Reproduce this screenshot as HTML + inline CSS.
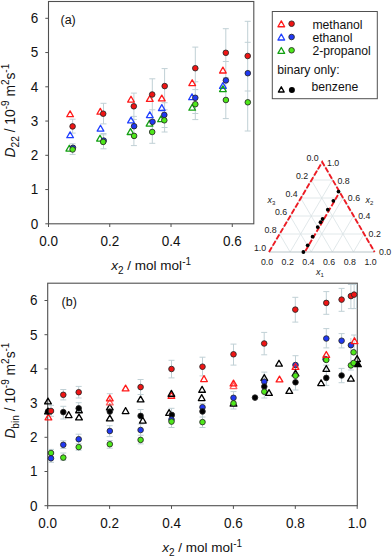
<!DOCTYPE html><html><head><meta charset="utf-8"><style>html,body{margin:0;padding:0;background:#fff;width:392px;height:559px;overflow:hidden}svg{display:block}text{font-family:"Liberation Sans",sans-serif}</style></head><body>
<svg width="392" height="559" viewBox="0 0 392 559">
<rect x="48.5" y="1.5" width="205.3" height="222.3" fill="none" stroke="#505050" stroke-width="1.1"/>
<line x1="45.3" y1="223.80" x2="48.5" y2="223.80" stroke="#505050" stroke-width="1"/>
<text transform="translate(38.3 228.70) scale(1 1.07)" font-size="13.5" text-anchor="end" fill="#111" >0</text>
<line x1="45.3" y1="189.55" x2="48.5" y2="189.55" stroke="#505050" stroke-width="1"/>
<text transform="translate(38.3 194.45) scale(1 1.07)" font-size="13.5" text-anchor="end" fill="#111" >1</text>
<line x1="45.3" y1="155.30" x2="48.5" y2="155.30" stroke="#505050" stroke-width="1"/>
<text transform="translate(38.3 160.20) scale(1 1.07)" font-size="13.5" text-anchor="end" fill="#111" >2</text>
<line x1="45.3" y1="121.05" x2="48.5" y2="121.05" stroke="#505050" stroke-width="1"/>
<text transform="translate(38.3 125.95) scale(1 1.07)" font-size="13.5" text-anchor="end" fill="#111" >3</text>
<line x1="45.3" y1="86.80" x2="48.5" y2="86.80" stroke="#505050" stroke-width="1"/>
<text transform="translate(38.3 91.70) scale(1 1.07)" font-size="13.5" text-anchor="end" fill="#111" >4</text>
<line x1="45.3" y1="52.55" x2="48.5" y2="52.55" stroke="#505050" stroke-width="1"/>
<text transform="translate(38.3 57.45) scale(1 1.07)" font-size="13.5" text-anchor="end" fill="#111" >5</text>
<line x1="45.3" y1="18.30" x2="48.5" y2="18.30" stroke="#505050" stroke-width="1"/>
<text transform="translate(38.3 23.20) scale(1 1.07)" font-size="13.5" text-anchor="end" fill="#111" >6</text>
<line x1="48.50" y1="223.8" x2="48.50" y2="227.0" stroke="#505050" stroke-width="1"/>
<text transform="translate(48.50 246.4) scale(1 1.07)" font-size="13.5" text-anchor="middle" fill="#111" >0.0</text>
<line x1="109.76" y1="223.8" x2="109.76" y2="227.0" stroke="#505050" stroke-width="1"/>
<text transform="translate(109.76 246.4) scale(1 1.07)" font-size="13.5" text-anchor="middle" fill="#111" >0.2</text>
<line x1="171.02" y1="223.8" x2="171.02" y2="227.0" stroke="#505050" stroke-width="1"/>
<text transform="translate(171.02 246.4) scale(1 1.07)" font-size="13.5" text-anchor="middle" fill="#111" >0.4</text>
<line x1="232.28" y1="223.8" x2="232.28" y2="227.0" stroke="#505050" stroke-width="1"/>
<text transform="translate(232.28 246.4) scale(1 1.07)" font-size="13.5" text-anchor="middle" fill="#111" >0.6</text>
<text x="60.5" y="23.9" font-size="12.5" text-anchor="start" fill="#111" >(a)</text>
<text x="111.3" y="270.3" font-size="13.5" fill="#111"><tspan font-style="italic">x</tspan><tspan font-size="10" dy="3.3">2</tspan><tspan dy="-3.3"> / mol mol</tspan><tspan font-size="10" dy="-5.5">-1</tspan></text>
<text transform="translate(15.0 157.5) rotate(-90)" font-size="13.8" fill="#111"><tspan font-style="italic">D</tspan><tspan font-size="10.2" dy="3.6">22</tspan><tspan dy="-3.6"> / 10</tspan><tspan font-size="10" dy="-5.6">-9</tspan><tspan dy="5.6"> m</tspan><tspan font-size="10" dy="-5.6">2</tspan><tspan dy="5.6">s</tspan><tspan font-size="10" dy="-5.6">-1</tspan></text>
<line x1="72.6" y1="119.2" x2="72.6" y2="133.1" stroke="#c0d0d5" stroke-width="1"/>
<line x1="69.6" y1="119.2" x2="75.6" y2="119.2" stroke="#c0d0d5" stroke-width="1"/>
<line x1="69.6" y1="133.1" x2="75.6" y2="133.1" stroke="#c0d0d5" stroke-width="1"/>
<line x1="72.6" y1="143.8" x2="72.6" y2="154.4" stroke="#c0d0d5" stroke-width="1"/>
<line x1="69.6" y1="143.8" x2="75.6" y2="143.8" stroke="#c0d0d5" stroke-width="1"/>
<line x1="69.6" y1="154.4" x2="75.6" y2="154.4" stroke="#c0d0d5" stroke-width="1"/>
<line x1="103.5" y1="103.3" x2="103.5" y2="123.9" stroke="#c0d0d5" stroke-width="1"/>
<line x1="100.5" y1="103.3" x2="106.5" y2="103.3" stroke="#c0d0d5" stroke-width="1"/>
<line x1="100.5" y1="123.9" x2="106.5" y2="123.9" stroke="#c0d0d5" stroke-width="1"/>
<line x1="103.5" y1="133.5" x2="103.5" y2="148.8" stroke="#c0d0d5" stroke-width="1"/>
<line x1="100.5" y1="133.5" x2="106.5" y2="133.5" stroke="#c0d0d5" stroke-width="1"/>
<line x1="100.5" y1="134.8" x2="106.5" y2="134.8" stroke="#c0d0d5" stroke-width="1"/>
<line x1="100.5" y1="148.8" x2="106.5" y2="148.8" stroke="#c0d0d5" stroke-width="1"/>
<line x1="133.9" y1="93.1" x2="133.9" y2="145.6" stroke="#c0d0d5" stroke-width="1"/>
<line x1="130.9" y1="93.1" x2="136.9" y2="93.1" stroke="#c0d0d5" stroke-width="1"/>
<line x1="130.9" y1="116.4" x2="136.9" y2="116.4" stroke="#c0d0d5" stroke-width="1"/>
<line x1="130.9" y1="119.5" x2="136.9" y2="119.5" stroke="#c0d0d5" stroke-width="1"/>
<line x1="130.9" y1="145.6" x2="136.9" y2="145.6" stroke="#c0d0d5" stroke-width="1"/>
<line x1="152.3" y1="78.8" x2="152.3" y2="143.3" stroke="#c0d0d5" stroke-width="1"/>
<line x1="149.3" y1="78.8" x2="155.3" y2="78.8" stroke="#c0d0d5" stroke-width="1"/>
<line x1="149.3" y1="109.8" x2="155.3" y2="109.8" stroke="#c0d0d5" stroke-width="1"/>
<line x1="149.3" y1="143.3" x2="155.3" y2="143.3" stroke="#c0d0d5" stroke-width="1"/>
<line x1="164.6" y1="68.6" x2="164.6" y2="132" stroke="#c0d0d5" stroke-width="1"/>
<line x1="161.6" y1="68.6" x2="167.6" y2="68.6" stroke="#c0d0d5" stroke-width="1"/>
<line x1="161.6" y1="102.7" x2="167.6" y2="102.7" stroke="#c0d0d5" stroke-width="1"/>
<line x1="161.6" y1="109.8" x2="167.6" y2="109.8" stroke="#c0d0d5" stroke-width="1"/>
<line x1="161.6" y1="127.5" x2="167.6" y2="127.5" stroke="#c0d0d5" stroke-width="1"/>
<line x1="161.6" y1="132" x2="167.6" y2="132" stroke="#c0d0d5" stroke-width="1"/>
<line x1="195.3" y1="47.1" x2="195.3" y2="119.6" stroke="#c0d0d5" stroke-width="1"/>
<line x1="192.3" y1="47.1" x2="198.3" y2="47.1" stroke="#c0d0d5" stroke-width="1"/>
<line x1="192.3" y1="81.8" x2="198.3" y2="81.8" stroke="#c0d0d5" stroke-width="1"/>
<line x1="192.3" y1="89.6" x2="198.3" y2="89.6" stroke="#c0d0d5" stroke-width="1"/>
<line x1="192.3" y1="113.5" x2="198.3" y2="113.5" stroke="#c0d0d5" stroke-width="1"/>
<line x1="192.3" y1="119.6" x2="198.3" y2="119.6" stroke="#c0d0d5" stroke-width="1"/>
<line x1="225.8" y1="28.7" x2="225.8" y2="118.6" stroke="#c0d0d5" stroke-width="1"/>
<line x1="222.8" y1="28.7" x2="228.8" y2="28.7" stroke="#c0d0d5" stroke-width="1"/>
<line x1="222.8" y1="61.5" x2="228.8" y2="61.5" stroke="#c0d0d5" stroke-width="1"/>
<line x1="222.8" y1="77.7" x2="228.8" y2="77.7" stroke="#c0d0d5" stroke-width="1"/>
<line x1="222.8" y1="118.6" x2="228.8" y2="118.6" stroke="#c0d0d5" stroke-width="1"/>
<line x1="247.7" y1="21.3" x2="247.7" y2="131" stroke="#c0d0d5" stroke-width="1"/>
<line x1="244.7" y1="21.3" x2="250.7" y2="21.3" stroke="#c0d0d5" stroke-width="1"/>
<line x1="244.7" y1="42.3" x2="250.7" y2="42.3" stroke="#c0d0d5" stroke-width="1"/>
<line x1="244.7" y1="91" x2="250.7" y2="91" stroke="#c0d0d5" stroke-width="1"/>
<line x1="244.7" y1="131" x2="250.7" y2="131" stroke="#c0d0d5" stroke-width="1"/>
<path d="M70.10 110.87L73.45 116.72L66.75 116.72Z" fill="none" stroke="#ff1a1a" stroke-width="1.3" stroke-linejoin="round"/>
<path d="M70.10 131.88L73.45 137.72L66.75 137.72Z" fill="none" stroke="#1f3fff" stroke-width="1.3" stroke-linejoin="round"/>
<path d="M69.30 145.27L72.65 151.12L65.95 151.12Z" fill="none" stroke="#12a012" stroke-width="1.3" stroke-linejoin="round"/>
<circle cx="72.60" cy="126.40" r="2.8" fill="#f01414" stroke="#262626" stroke-width="0.85"/>
<circle cx="73.00" cy="147.80" r="2.8" fill="#2038f2" stroke="#262626" stroke-width="0.85"/>
<circle cx="72.60" cy="149.50" r="2.8" fill="#4ee81a" stroke="#262626" stroke-width="0.85"/>
<path d="M100.30 108.37L103.65 114.22L96.95 114.22Z" fill="none" stroke="#ff1a1a" stroke-width="1.3" stroke-linejoin="round"/>
<path d="M100.50 125.27L103.85 131.12L97.15 131.12Z" fill="none" stroke="#1f3fff" stroke-width="1.3" stroke-linejoin="round"/>
<path d="M100.00 135.27L103.35 141.12L96.65 141.12Z" fill="none" stroke="#12a012" stroke-width="1.3" stroke-linejoin="round"/>
<circle cx="103.20" cy="113.70" r="2.8" fill="#f01414" stroke="#262626" stroke-width="0.85"/>
<circle cx="103.70" cy="140.60" r="2.8" fill="#2038f2" stroke="#262626" stroke-width="0.85"/>
<circle cx="103.20" cy="141.90" r="2.8" fill="#4ee81a" stroke="#262626" stroke-width="0.85"/>
<path d="M131.00 96.27L134.35 102.12L127.65 102.12Z" fill="none" stroke="#ff1a1a" stroke-width="1.3" stroke-linejoin="round"/>
<path d="M131.00 117.07L134.35 122.92L127.65 122.92Z" fill="none" stroke="#1f3fff" stroke-width="1.3" stroke-linejoin="round"/>
<path d="M130.50 128.67L133.85 134.52L127.15 134.52Z" fill="none" stroke="#12a012" stroke-width="1.3" stroke-linejoin="round"/>
<circle cx="133.80" cy="106.30" r="2.8" fill="#f01414" stroke="#262626" stroke-width="0.85"/>
<circle cx="134.10" cy="126.20" r="2.8" fill="#2038f2" stroke="#262626" stroke-width="0.85"/>
<circle cx="134.10" cy="135.90" r="2.8" fill="#4ee81a" stroke="#262626" stroke-width="0.85"/>
<path d="M149.80 95.57L153.15 101.42L146.45 101.42Z" fill="none" stroke="#ff1a1a" stroke-width="1.3" stroke-linejoin="round"/>
<path d="M149.80 111.77L153.15 117.62L146.45 117.62Z" fill="none" stroke="#1f3fff" stroke-width="1.3" stroke-linejoin="round"/>
<path d="M149.50 120.27L152.85 126.12L146.15 126.12Z" fill="none" stroke="#12a012" stroke-width="1.3" stroke-linejoin="round"/>
<circle cx="152.20" cy="94.50" r="2.8" fill="#f01414" stroke="#262626" stroke-width="0.85"/>
<circle cx="152.50" cy="121.80" r="2.8" fill="#2038f2" stroke="#262626" stroke-width="0.85"/>
<circle cx="152.20" cy="132.00" r="2.8" fill="#4ee81a" stroke="#262626" stroke-width="0.85"/>
<path d="M161.80 95.07L165.15 100.92L158.45 100.92Z" fill="none" stroke="#ff1a1a" stroke-width="1.3" stroke-linejoin="round"/>
<path d="M161.80 104.67L165.15 110.52L158.45 110.52Z" fill="none" stroke="#1f3fff" stroke-width="1.3" stroke-linejoin="round"/>
<path d="M161.00 115.87L164.35 121.72L157.65 121.72Z" fill="none" stroke="#12a012" stroke-width="1.3" stroke-linejoin="round"/>
<circle cx="164.70" cy="86.10" r="2.8" fill="#f01414" stroke="#262626" stroke-width="0.85"/>
<circle cx="164.30" cy="114.90" r="2.8" fill="#2038f2" stroke="#262626" stroke-width="0.85"/>
<circle cx="164.30" cy="120.30" r="2.8" fill="#4ee81a" stroke="#262626" stroke-width="0.85"/>
<path d="M192.20 79.77L195.55 85.62L188.85 85.62Z" fill="none" stroke="#ff1a1a" stroke-width="1.3" stroke-linejoin="round"/>
<path d="M192.00 93.87L195.35 99.72L188.65 99.72Z" fill="none" stroke="#1f3fff" stroke-width="1.3" stroke-linejoin="round"/>
<path d="M192.20 104.37L195.55 110.22L188.85 110.22Z" fill="none" stroke="#12a012" stroke-width="1.3" stroke-linejoin="round"/>
<circle cx="195.30" cy="68.20" r="2.8" fill="#f01414" stroke="#262626" stroke-width="0.85"/>
<circle cx="195.30" cy="97.80" r="2.8" fill="#2038f2" stroke="#262626" stroke-width="0.85"/>
<circle cx="195.30" cy="104.20" r="2.8" fill="#4ee81a" stroke="#262626" stroke-width="0.85"/>
<path d="M222.90 67.17L226.25 73.02L219.55 73.02Z" fill="none" stroke="#ff1a1a" stroke-width="1.3" stroke-linejoin="round"/>
<path d="M222.90 82.57L226.25 88.42L219.55 88.42Z" fill="none" stroke="#1f3fff" stroke-width="1.3" stroke-linejoin="round"/>
<path d="M222.90 85.77L226.25 91.62L219.55 91.62Z" fill="none" stroke="#12a012" stroke-width="1.3" stroke-linejoin="round"/>
<circle cx="225.80" cy="52.80" r="2.8" fill="#f01414" stroke="#262626" stroke-width="0.85"/>
<circle cx="225.90" cy="80.40" r="2.8" fill="#2038f2" stroke="#262626" stroke-width="0.85"/>
<circle cx="225.90" cy="100.00" r="2.8" fill="#4ee81a" stroke="#262626" stroke-width="0.85"/>
<circle cx="247.70" cy="56.00" r="2.8" fill="#f01414" stroke="#262626" stroke-width="0.85"/>
<circle cx="247.80" cy="73.20" r="2.8" fill="#2038f2" stroke="#262626" stroke-width="0.85"/>
<circle cx="247.80" cy="102.30" r="2.8" fill="#4ee81a" stroke="#262626" stroke-width="0.85"/>
<rect x="272.3" y="11.5" width="105" height="87.2" fill="#fff" stroke="#505050" stroke-width="1"/>
<path d="M281.30 20.88L284.65 26.73L277.95 26.73Z" fill="none" stroke="#ff1a1a" stroke-width="1.3" stroke-linejoin="round"/>
<circle cx="291.60" cy="23.70" r="2.8" fill="#f01414" stroke="#262626" stroke-width="0.85"/>
<text x="312.4" y="28.6" font-size="12.2" text-anchor="start" fill="#111" >methanol</text>
<path d="M281.30 34.17L284.65 40.02L277.95 40.02Z" fill="none" stroke="#1f3fff" stroke-width="1.3" stroke-linejoin="round"/>
<circle cx="291.60" cy="37.00" r="2.8" fill="#2038f2" stroke="#262626" stroke-width="0.85"/>
<text x="312.4" y="41.9" font-size="12.2" text-anchor="start" fill="#111" >ethanol</text>
<path d="M281.30 47.48L284.65 53.33L277.95 53.33Z" fill="none" stroke="#12a012" stroke-width="1.3" stroke-linejoin="round"/>
<circle cx="291.60" cy="50.30" r="2.8" fill="#4ee81a" stroke="#262626" stroke-width="0.85"/>
<text x="312.4" y="55.2" font-size="12.2" text-anchor="start" fill="#111" >2-propanol</text>
<text x="277.2" y="73.8" font-size="12.2" text-anchor="start" fill="#111" >binary only:</text>
<path d="M281.30 86.83L284.20 91.98L278.40 91.98Z" fill="none" stroke="#000000" stroke-width="1.35" stroke-linejoin="round"/>
<circle cx="291.9" cy="90" r="3" fill="#000"/>
<text x="311.5" y="91.4" font-size="12.2" text-anchor="start" fill="#111" >benzene</text>
<line x1="311.64" y1="180.00" x2="332.76" y2="180.00" stroke="#d9e2e5" stroke-width="0.8"/>
<line x1="290.12" y1="252.0" x2="332.36" y2="180.00" stroke="#d9e2e5" stroke-width="0.8"/>
<line x1="290.12" y1="252.0" x2="279.56" y2="234.00" stroke="#d9e2e5" stroke-width="0.8"/>
<line x1="301.08" y1="198.00" x2="343.32" y2="198.00" stroke="#d9e2e5" stroke-width="0.8"/>
<line x1="311.24" y1="252.0" x2="342.92" y2="198.00" stroke="#d9e2e5" stroke-width="0.8"/>
<line x1="311.24" y1="252.0" x2="290.12" y2="216.00" stroke="#d9e2e5" stroke-width="0.8"/>
<line x1="290.52" y1="216.00" x2="353.88" y2="216.00" stroke="#d9e2e5" stroke-width="0.8"/>
<line x1="332.36" y1="252.0" x2="353.48" y2="216.00" stroke="#d9e2e5" stroke-width="0.8"/>
<line x1="332.36" y1="252.0" x2="300.68" y2="198.00" stroke="#d9e2e5" stroke-width="0.8"/>
<line x1="279.96" y1="234.00" x2="364.44" y2="234.00" stroke="#d9e2e5" stroke-width="0.8"/>
<line x1="353.48" y1="252.0" x2="364.04" y2="234.00" stroke="#d9e2e5" stroke-width="0.8"/>
<line x1="353.48" y1="252.0" x2="311.24" y2="180.00" stroke="#d9e2e5" stroke-width="0.8"/>
<line x1="269.0" y1="252.0" x2="374.6" y2="252.0" stroke="#b8c4c8" stroke-width="1"/>
<path d="M269.0 252.0L322.2 162.0L374.6 252.0" fill="none" stroke="#c8d0d4" stroke-width="1"/>
<path d="M269.0 252.0L322.2 162.0L374.6 252.0" fill="none" stroke="#ee1c24" stroke-width="1.9" stroke-dasharray="5.5 1.9"/>
<line x1="305.4" y1="251" x2="338.8" y2="193.5" stroke="#ee1c24" stroke-width="1.9" stroke-dasharray="5.5 1.9"/>
<circle cx="303.4" cy="252" r="1.9" fill="#000"/>
<circle cx="307.7" cy="245.3" r="1.9" fill="#000"/>
<circle cx="312.6" cy="236.7" r="1.9" fill="#000"/>
<circle cx="317.7" cy="227.1" r="1.9" fill="#000"/>
<circle cx="320.5" cy="222.2" r="1.9" fill="#000"/>
<circle cx="322.6" cy="219" r="1.9" fill="#000"/>
<circle cx="327.8" cy="209.7" r="1.9" fill="#000"/>
<circle cx="333.4" cy="200.8" r="1.9" fill="#000"/>
<circle cx="338.5" cy="191.6" r="1.9" fill="#000"/>
<text x="318.7" y="161.0" font-size="8.8" text-anchor="end" fill="#222" >0.0</text>
<text x="308.2" y="179.0" font-size="8.8" text-anchor="end" fill="#222" >0.2</text>
<text x="297.7" y="197.0" font-size="8.8" text-anchor="end" fill="#222" >0.4</text>
<text x="287.2" y="215.0" font-size="8.8" text-anchor="end" fill="#222" >0.6</text>
<text x="276.7" y="233.0" font-size="8.8" text-anchor="end" fill="#222" >0.8</text>
<text x="266.2" y="251.0" font-size="8.8" text-anchor="end" fill="#222" >1.0</text>
<text x="327.0" y="165.7" font-size="8.8" text-anchor="start" fill="#222" >1.0</text>
<text x="337.4" y="183.5" font-size="8.8" text-anchor="start" fill="#222" >0.8</text>
<text x="347.8" y="201.3" font-size="8.8" text-anchor="start" fill="#222" >0.6</text>
<text x="358.2" y="219.1" font-size="8.8" text-anchor="start" fill="#222" >0.4</text>
<text x="368.6" y="236.9" font-size="8.8" text-anchor="start" fill="#222" >0.2</text>
<text x="379.0" y="254.7" font-size="8.8" text-anchor="start" fill="#222" >0.0</text>
<text x="267.0" y="264.8" font-size="8.8" text-anchor="middle" fill="#222" >0.0</text>
<text x="287.7" y="264.8" font-size="8.8" text-anchor="middle" fill="#222" >0.2</text>
<text x="308.4" y="264.8" font-size="8.8" text-anchor="middle" fill="#222" >0.4</text>
<text x="329.1" y="264.8" font-size="8.8" text-anchor="middle" fill="#222" >0.6</text>
<text x="349.8" y="264.8" font-size="8.8" text-anchor="middle" fill="#222" >0.8</text>
<text x="370.5" y="264.8" font-size="8.8" text-anchor="middle" fill="#222" >1.0</text>
<text x="267.6" y="202.5" font-size="9" fill="#222"><tspan font-style="italic">x</tspan><tspan font-size="6" dy="2">3</tspan></text>
<text x="365.5" y="202.8" font-size="9" fill="#222"><tspan font-style="italic">x</tspan><tspan font-size="6" dy="2">2</tspan></text>
<text x="316" y="275" font-size="9" fill="#222"><tspan font-style="italic">x</tspan><tspan font-size="6" dy="2">1</tspan></text>
<rect x="47.7" y="283.2" width="309.6" height="222.5" fill="none" stroke="#505050" stroke-width="1.1"/>
<line x1="44.5" y1="505.70" x2="47.7" y2="505.70" stroke="#505050" stroke-width="1"/>
<text transform="translate(37.5 510.60) scale(1 1.07)" font-size="13.5" text-anchor="end" fill="#111" >0</text>
<line x1="44.5" y1="471.50" x2="47.7" y2="471.50" stroke="#505050" stroke-width="1"/>
<text transform="translate(37.5 476.40) scale(1 1.07)" font-size="13.5" text-anchor="end" fill="#111" >1</text>
<line x1="44.5" y1="437.30" x2="47.7" y2="437.30" stroke="#505050" stroke-width="1"/>
<text transform="translate(37.5 442.20) scale(1 1.07)" font-size="13.5" text-anchor="end" fill="#111" >2</text>
<line x1="44.5" y1="403.10" x2="47.7" y2="403.10" stroke="#505050" stroke-width="1"/>
<text transform="translate(37.5 408.00) scale(1 1.07)" font-size="13.5" text-anchor="end" fill="#111" >3</text>
<line x1="44.5" y1="368.90" x2="47.7" y2="368.90" stroke="#505050" stroke-width="1"/>
<text transform="translate(37.5 373.80) scale(1 1.07)" font-size="13.5" text-anchor="end" fill="#111" >4</text>
<line x1="44.5" y1="334.70" x2="47.7" y2="334.70" stroke="#505050" stroke-width="1"/>
<text transform="translate(37.5 339.60) scale(1 1.07)" font-size="13.5" text-anchor="end" fill="#111" >5</text>
<line x1="44.5" y1="300.50" x2="47.7" y2="300.50" stroke="#505050" stroke-width="1"/>
<text transform="translate(37.5 305.40) scale(1 1.07)" font-size="13.5" text-anchor="end" fill="#111" >6</text>
<line x1="47.70" y1="505.7" x2="47.70" y2="508.9" stroke="#505050" stroke-width="1"/>
<text transform="translate(47.70 528.4) scale(1 1.07)" font-size="13.5" text-anchor="middle" fill="#111" >0.0</text>
<line x1="109.60" y1="505.7" x2="109.60" y2="508.9" stroke="#505050" stroke-width="1"/>
<text transform="translate(109.60 528.4) scale(1 1.07)" font-size="13.5" text-anchor="middle" fill="#111" >0.2</text>
<line x1="171.50" y1="505.7" x2="171.50" y2="508.9" stroke="#505050" stroke-width="1"/>
<text transform="translate(171.50 528.4) scale(1 1.07)" font-size="13.5" text-anchor="middle" fill="#111" >0.4</text>
<line x1="233.40" y1="505.7" x2="233.40" y2="508.9" stroke="#505050" stroke-width="1"/>
<text transform="translate(233.40 528.4) scale(1 1.07)" font-size="13.5" text-anchor="middle" fill="#111" >0.6</text>
<line x1="295.30" y1="505.7" x2="295.30" y2="508.9" stroke="#505050" stroke-width="1"/>
<text transform="translate(295.30 528.4) scale(1 1.07)" font-size="13.5" text-anchor="middle" fill="#111" >0.8</text>
<line x1="357.20" y1="505.7" x2="357.20" y2="508.9" stroke="#505050" stroke-width="1"/>
<text transform="translate(357.20 528.4) scale(1 1.07)" font-size="13.5" text-anchor="middle" fill="#111" >1.0</text>
<text x="61.6" y="306.0" font-size="12.5" text-anchor="start" fill="#111" >(b)</text>
<text x="162.3" y="552.4" font-size="13.5" fill="#111"><tspan font-style="italic">x</tspan><tspan font-size="10" dy="3.3">2</tspan><tspan dy="-3.3"> / mol mol</tspan><tspan font-size="10" dy="-5.5">-1</tspan></text>
<text transform="translate(15.0 438.6) rotate(-90)" font-size="13.8" fill="#111"><tspan font-style="italic">D</tspan><tspan font-size="10.2" dy="3.6">bin</tspan><tspan dy="-3.6"> / 10</tspan><tspan font-size="10" dy="-5.6">-9</tspan><tspan dy="5.6"> m</tspan><tspan font-size="10" dy="-5.6">2</tspan><tspan dy="5.6">s</tspan><tspan font-size="10" dy="-5.6">-1</tspan></text>
<line x1="51" y1="405.3" x2="51" y2="416.3" stroke="#c0d0d5" stroke-width="1"/>
<line x1="48.0" y1="405.3" x2="54.0" y2="405.3" stroke="#c0d0d5" stroke-width="1"/>
<line x1="48.0" y1="416.3" x2="54.0" y2="416.3" stroke="#c0d0d5" stroke-width="1"/>
<line x1="51" y1="449.4" x2="51" y2="462.3" stroke="#c0d0d5" stroke-width="1"/>
<line x1="48.0" y1="449.4" x2="54.0" y2="449.4" stroke="#c0d0d5" stroke-width="1"/>
<line x1="48.0" y1="462.3" x2="54.0" y2="462.3" stroke="#c0d0d5" stroke-width="1"/>
<line x1="63.3" y1="440.8" x2="63.3" y2="448.5" stroke="#c0d0d5" stroke-width="1"/>
<line x1="60.3" y1="440.8" x2="66.3" y2="440.8" stroke="#c0d0d5" stroke-width="1"/>
<line x1="60.3" y1="448.5" x2="66.3" y2="448.5" stroke="#c0d0d5" stroke-width="1"/>
<line x1="63.3" y1="453" x2="63.3" y2="460.2" stroke="#c0d0d5" stroke-width="1"/>
<line x1="60.3" y1="453" x2="66.3" y2="453" stroke="#c0d0d5" stroke-width="1"/>
<line x1="60.3" y1="460.2" x2="66.3" y2="460.2" stroke="#c0d0d5" stroke-width="1"/>
<line x1="78.6" y1="434.2" x2="78.6" y2="443.8" stroke="#c0d0d5" stroke-width="1"/>
<line x1="75.6" y1="434.2" x2="81.6" y2="434.2" stroke="#c0d0d5" stroke-width="1"/>
<line x1="75.6" y1="443.8" x2="81.6" y2="443.8" stroke="#c0d0d5" stroke-width="1"/>
<line x1="78.6" y1="443.8" x2="78.6" y2="450.2" stroke="#c0d0d5" stroke-width="1"/>
<line x1="75.6" y1="450.2" x2="81.6" y2="450.2" stroke="#c0d0d5" stroke-width="1"/>
<line x1="109.7" y1="425.7" x2="109.7" y2="436.6" stroke="#c0d0d5" stroke-width="1"/>
<line x1="106.7" y1="425.7" x2="112.7" y2="425.7" stroke="#c0d0d5" stroke-width="1"/>
<line x1="106.7" y1="436.6" x2="112.7" y2="436.6" stroke="#c0d0d5" stroke-width="1"/>
<line x1="109.7" y1="440.5" x2="109.7" y2="448.2" stroke="#c0d0d5" stroke-width="1"/>
<line x1="106.7" y1="440.5" x2="112.7" y2="440.5" stroke="#c0d0d5" stroke-width="1"/>
<line x1="106.7" y1="448.2" x2="112.7" y2="448.2" stroke="#c0d0d5" stroke-width="1"/>
<line x1="140.7" y1="424" x2="140.7" y2="435.2" stroke="#c0d0d5" stroke-width="1"/>
<line x1="137.7" y1="424" x2="143.7" y2="424" stroke="#c0d0d5" stroke-width="1"/>
<line x1="137.7" y1="435.2" x2="143.7" y2="435.2" stroke="#c0d0d5" stroke-width="1"/>
<line x1="140.7" y1="435.2" x2="140.7" y2="443.9" stroke="#c0d0d5" stroke-width="1"/>
<line x1="137.7" y1="443.9" x2="143.7" y2="443.9" stroke="#c0d0d5" stroke-width="1"/>
<line x1="63.3" y1="389.5" x2="63.3" y2="399.9" stroke="#c0d0d5" stroke-width="1"/>
<line x1="60.3" y1="389.5" x2="66.3" y2="389.5" stroke="#c0d0d5" stroke-width="1"/>
<line x1="60.3" y1="399.9" x2="66.3" y2="399.9" stroke="#c0d0d5" stroke-width="1"/>
<line x1="63.3" y1="406.3" x2="63.3" y2="419" stroke="#c0d0d5" stroke-width="1"/>
<line x1="60.3" y1="406.3" x2="66.3" y2="406.3" stroke="#c0d0d5" stroke-width="1"/>
<line x1="60.3" y1="419" x2="66.3" y2="419" stroke="#c0d0d5" stroke-width="1"/>
<line x1="78.7" y1="386.4" x2="78.7" y2="398" stroke="#c0d0d5" stroke-width="1"/>
<line x1="75.7" y1="386.4" x2="81.7" y2="386.4" stroke="#c0d0d5" stroke-width="1"/>
<line x1="75.7" y1="398" x2="81.7" y2="398" stroke="#c0d0d5" stroke-width="1"/>
<line x1="78.7" y1="402.7" x2="78.7" y2="411.4" stroke="#c0d0d5" stroke-width="1"/>
<line x1="75.7" y1="402.7" x2="81.7" y2="402.7" stroke="#c0d0d5" stroke-width="1"/>
<line x1="75.7" y1="411.4" x2="81.7" y2="411.4" stroke="#c0d0d5" stroke-width="1"/>
<line x1="109.8" y1="393.7" x2="109.8" y2="400" stroke="#c0d0d5" stroke-width="1"/>
<line x1="106.8" y1="393.7" x2="112.8" y2="393.7" stroke="#c0d0d5" stroke-width="1"/>
<line x1="140.6" y1="379.5" x2="140.6" y2="394.5" stroke="#c0d0d5" stroke-width="1"/>
<line x1="137.6" y1="379.5" x2="143.6" y2="379.5" stroke="#c0d0d5" stroke-width="1"/>
<line x1="137.6" y1="394.5" x2="143.6" y2="394.5" stroke="#c0d0d5" stroke-width="1"/>
<line x1="140.6" y1="409.5" x2="140.6" y2="420" stroke="#c0d0d5" stroke-width="1"/>
<line x1="137.6" y1="409.5" x2="143.6" y2="409.5" stroke="#c0d0d5" stroke-width="1"/>
<line x1="171.5" y1="360.3" x2="171.5" y2="377.9" stroke="#c0d0d5" stroke-width="1"/>
<line x1="168.5" y1="360.3" x2="174.5" y2="360.3" stroke="#c0d0d5" stroke-width="1"/>
<line x1="168.5" y1="377.9" x2="174.5" y2="377.9" stroke="#c0d0d5" stroke-width="1"/>
<line x1="171.5" y1="408.3" x2="171.5" y2="427.5" stroke="#c0d0d5" stroke-width="1"/>
<line x1="168.5" y1="408.3" x2="174.5" y2="408.3" stroke="#c0d0d5" stroke-width="1"/>
<line x1="168.5" y1="427.5" x2="174.5" y2="427.5" stroke="#c0d0d5" stroke-width="1"/>
<line x1="202.5" y1="357.2" x2="202.5" y2="375.9" stroke="#c0d0d5" stroke-width="1"/>
<line x1="199.5" y1="357.2" x2="205.5" y2="357.2" stroke="#c0d0d5" stroke-width="1"/>
<line x1="199.5" y1="375.9" x2="205.5" y2="375.9" stroke="#c0d0d5" stroke-width="1"/>
<line x1="202.5" y1="403.7" x2="202.5" y2="427.5" stroke="#c0d0d5" stroke-width="1"/>
<line x1="199.5" y1="403.7" x2="205.5" y2="403.7" stroke="#c0d0d5" stroke-width="1"/>
<line x1="199.5" y1="417" x2="205.5" y2="417" stroke="#c0d0d5" stroke-width="1"/>
<line x1="199.5" y1="427.5" x2="205.5" y2="427.5" stroke="#c0d0d5" stroke-width="1"/>
<line x1="233.5" y1="344.1" x2="233.5" y2="365.1" stroke="#c0d0d5" stroke-width="1"/>
<line x1="230.5" y1="344.1" x2="236.5" y2="344.1" stroke="#c0d0d5" stroke-width="1"/>
<line x1="230.5" y1="365.1" x2="236.5" y2="365.1" stroke="#c0d0d5" stroke-width="1"/>
<line x1="233.5" y1="391.6" x2="233.5" y2="409" stroke="#c0d0d5" stroke-width="1"/>
<line x1="230.5" y1="391.6" x2="236.5" y2="391.6" stroke="#c0d0d5" stroke-width="1"/>
<line x1="230.5" y1="409" x2="236.5" y2="409" stroke="#c0d0d5" stroke-width="1"/>
<line x1="264.2" y1="332.4" x2="264.2" y2="354.8" stroke="#c0d0d5" stroke-width="1"/>
<line x1="261.2" y1="332.4" x2="267.2" y2="332.4" stroke="#c0d0d5" stroke-width="1"/>
<line x1="261.2" y1="354.8" x2="267.2" y2="354.8" stroke="#c0d0d5" stroke-width="1"/>
<line x1="264.3" y1="372.1" x2="264.3" y2="398" stroke="#c0d0d5" stroke-width="1"/>
<line x1="261.3" y1="372.1" x2="267.3" y2="372.1" stroke="#c0d0d5" stroke-width="1"/>
<line x1="261.3" y1="398" x2="267.3" y2="398" stroke="#c0d0d5" stroke-width="1"/>
<line x1="295.3" y1="297.3" x2="295.3" y2="322.1" stroke="#c0d0d5" stroke-width="1"/>
<line x1="292.3" y1="297.3" x2="298.3" y2="297.3" stroke="#c0d0d5" stroke-width="1"/>
<line x1="292.3" y1="322.1" x2="298.3" y2="322.1" stroke="#c0d0d5" stroke-width="1"/>
<line x1="295.5" y1="355.7" x2="295.5" y2="390" stroke="#c0d0d5" stroke-width="1"/>
<line x1="292.5" y1="355.7" x2="298.5" y2="355.7" stroke="#c0d0d5" stroke-width="1"/>
<line x1="292.5" y1="390" x2="298.5" y2="390" stroke="#c0d0d5" stroke-width="1"/>
<line x1="326.3" y1="291.6" x2="326.3" y2="314.3" stroke="#c0d0d5" stroke-width="1"/>
<line x1="323.3" y1="291.6" x2="329.3" y2="291.6" stroke="#c0d0d5" stroke-width="1"/>
<line x1="323.3" y1="314.3" x2="329.3" y2="314.3" stroke="#c0d0d5" stroke-width="1"/>
<line x1="326.3" y1="328.6" x2="326.3" y2="347.9" stroke="#c0d0d5" stroke-width="1"/>
<line x1="323.3" y1="328.6" x2="329.3" y2="328.6" stroke="#c0d0d5" stroke-width="1"/>
<line x1="323.3" y1="347.9" x2="329.3" y2="347.9" stroke="#c0d0d5" stroke-width="1"/>
<line x1="326.3" y1="365.1" x2="326.3" y2="385.4" stroke="#c0d0d5" stroke-width="1"/>
<line x1="323.3" y1="365.1" x2="329.3" y2="365.1" stroke="#c0d0d5" stroke-width="1"/>
<line x1="323.3" y1="385.4" x2="329.3" y2="385.4" stroke="#c0d0d5" stroke-width="1"/>
<line x1="341.6" y1="288.4" x2="341.6" y2="311.3" stroke="#c0d0d5" stroke-width="1"/>
<line x1="338.6" y1="288.4" x2="344.6" y2="288.4" stroke="#c0d0d5" stroke-width="1"/>
<line x1="338.6" y1="311.3" x2="344.6" y2="311.3" stroke="#c0d0d5" stroke-width="1"/>
<line x1="341.6" y1="333.6" x2="341.6" y2="347.9" stroke="#c0d0d5" stroke-width="1"/>
<line x1="338.6" y1="333.6" x2="344.6" y2="333.6" stroke="#c0d0d5" stroke-width="1"/>
<line x1="338.6" y1="347.9" x2="344.6" y2="347.9" stroke="#c0d0d5" stroke-width="1"/>
<line x1="341.6" y1="368.4" x2="341.6" y2="382.7" stroke="#c0d0d5" stroke-width="1"/>
<line x1="338.6" y1="368.4" x2="344.6" y2="368.4" stroke="#c0d0d5" stroke-width="1"/>
<line x1="338.6" y1="382.7" x2="344.6" y2="382.7" stroke="#c0d0d5" stroke-width="1"/>
<line x1="350.9" y1="284.5" x2="350.9" y2="308.6" stroke="#c0d0d5" stroke-width="1"/>
<line x1="347.9" y1="284.5" x2="353.9" y2="284.5" stroke="#c0d0d5" stroke-width="1"/>
<line x1="347.9" y1="308.6" x2="353.9" y2="308.6" stroke="#c0d0d5" stroke-width="1"/>
<line x1="354.1" y1="284.5" x2="354.1" y2="308.6" stroke="#c0d0d5" stroke-width="1"/>
<line x1="351.1" y1="284.5" x2="357.1" y2="284.5" stroke="#c0d0d5" stroke-width="1"/>
<line x1="351.1" y1="308.6" x2="357.1" y2="308.6" stroke="#c0d0d5" stroke-width="1"/>
<line x1="356.5" y1="284.5" x2="356.5" y2="308.6" stroke="#c0d0d5" stroke-width="1"/>
<line x1="350.9" y1="338" x2="350.9" y2="370" stroke="#c0d0d5" stroke-width="1"/>
<line x1="347.9" y1="370" x2="353.9" y2="370" stroke="#c0d0d5" stroke-width="1"/>
<line x1="354.1" y1="335" x2="354.1" y2="352" stroke="#c0d0d5" stroke-width="1"/>
<line x1="351.1" y1="335" x2="357.1" y2="335" stroke="#c0d0d5" stroke-width="1"/>
<path d="M48.00 398.08L51.35 403.93L44.65 403.93Z" fill="none" stroke="#000000" stroke-width="1.3" stroke-linejoin="round"/>
<path d="M48.40 413.98L51.75 419.82L45.05 419.82Z" fill="none" stroke="#ff1a1a" stroke-width="1.3" stroke-linejoin="round"/>
<circle cx="48.00" cy="411.50" r="2.8" fill="#000000" stroke="#262626" stroke-width="0.85"/>
<path d="M48.00 408.08L51.35 413.93L44.65 413.93Z" fill="none" stroke="#000000" stroke-width="1.3" stroke-linejoin="round"/>
<circle cx="51.00" cy="411.00" r="2.8" fill="#f01414" stroke="#262626" stroke-width="0.85"/>
<circle cx="51.00" cy="453.00" r="2.8" fill="#4ee81a" stroke="#262626" stroke-width="0.85"/>
<circle cx="51.00" cy="458.30" r="2.8" fill="#2038f2" stroke="#262626" stroke-width="0.85"/>
<circle cx="63.30" cy="394.80" r="2.8" fill="#f01414" stroke="#262626" stroke-width="0.85"/>
<circle cx="63.30" cy="412.10" r="2.8" fill="#000000" stroke="#262626" stroke-width="0.85"/>
<path d="M68.70 411.68L72.05 417.53L65.35 417.53Z" fill="none" stroke="#000000" stroke-width="1.3" stroke-linejoin="round"/>
<circle cx="63.30" cy="444.80" r="2.8" fill="#2038f2" stroke="#262626" stroke-width="0.85"/>
<circle cx="63.30" cy="457.60" r="2.8" fill="#4ee81a" stroke="#262626" stroke-width="0.85"/>
<circle cx="78.70" cy="392.20" r="2.8" fill="#f01414" stroke="#262626" stroke-width="0.85"/>
<path d="M79.00 406.88L82.35 412.73L75.65 412.73Z" fill="none" stroke="#000000" stroke-width="1.3" stroke-linejoin="round"/>
<circle cx="78.70" cy="408.30" r="2.8" fill="#000000" stroke="#262626" stroke-width="0.85"/>
<path d="M79.00 414.08L82.35 419.93L75.65 419.93Z" fill="none" stroke="#000000" stroke-width="1.3" stroke-linejoin="round"/>
<circle cx="78.70" cy="439.20" r="2.8" fill="#2038f2" stroke="#262626" stroke-width="0.85"/>
<circle cx="78.70" cy="447.10" r="2.8" fill="#4ee81a" stroke="#262626" stroke-width="0.85"/>
<path d="M109.80 404.08L113.15 409.93L106.45 409.93Z" fill="none" stroke="#000000" stroke-width="1.3" stroke-linejoin="round"/>
<path d="M109.80 399.08L113.15 404.93L106.45 404.93Z" fill="none" stroke="#ff6060" stroke-width="1.3" stroke-linejoin="round"/>
<path d="M109.80 395.08L113.15 400.93L106.45 400.93Z" fill="none" stroke="#ff1a1a" stroke-width="1.3" stroke-linejoin="round"/>
<circle cx="109.80" cy="411.60" r="2.8" fill="#000000" stroke="#262626" stroke-width="0.85"/>
<path d="M109.80 415.08L113.15 420.93L106.45 420.93Z" fill="none" stroke="#000000" stroke-width="1.3" stroke-linejoin="round"/>
<circle cx="109.80" cy="431.00" r="2.8" fill="#2038f2" stroke="#262626" stroke-width="0.85"/>
<circle cx="109.80" cy="444.20" r="2.8" fill="#4ee81a" stroke="#262626" stroke-width="0.85"/>
<path d="M125.60 385.08L128.95 390.93L122.25 390.93Z" fill="none" stroke="#ff1a1a" stroke-width="1.3" stroke-linejoin="round"/>
<path d="M125.60 407.68L128.95 413.53L122.25 413.53Z" fill="none" stroke="#000000" stroke-width="1.3" stroke-linejoin="round"/>
<circle cx="140.60" cy="387.10" r="2.8" fill="#f01414" stroke="#262626" stroke-width="0.85"/>
<path d="M140.60 396.08L143.95 401.93L137.25 401.93Z" fill="none" stroke="#000000" stroke-width="1.3" stroke-linejoin="round"/>
<circle cx="140.60" cy="415.90" r="2.8" fill="#000000" stroke="#262626" stroke-width="0.85"/>
<path d="M142.80 417.28L146.15 423.12L139.45 423.12Z" fill="none" stroke="#000000" stroke-width="1.3" stroke-linejoin="round"/>
<circle cx="140.60" cy="430.00" r="2.8" fill="#2038f2" stroke="#262626" stroke-width="0.85"/>
<circle cx="140.60" cy="439.90" r="2.8" fill="#4ee81a" stroke="#262626" stroke-width="0.85"/>
<circle cx="171.50" cy="369.00" r="2.8" fill="#f01414" stroke="#262626" stroke-width="0.85"/>
<path d="M171.40 392.38L174.75 398.23L168.05 398.23Z" fill="none" stroke="#ff1a1a" stroke-width="1.3" stroke-linejoin="round"/>
<path d="M171.40 390.38L174.75 396.23L168.05 396.23Z" fill="none" stroke="#000000" stroke-width="1.3" stroke-linejoin="round"/>
<path d="M169.10 409.58L172.45 415.43L165.75 415.43Z" fill="none" stroke="#000000" stroke-width="1.3" stroke-linejoin="round"/>
<circle cx="171.80" cy="414.90" r="2.8" fill="#000000" stroke="#262626" stroke-width="0.85"/>
<circle cx="171.50" cy="419.50" r="2.8" fill="#2038f2" stroke="#262626" stroke-width="0.85"/>
<circle cx="171.50" cy="421.60" r="2.8" fill="#4ee81a" stroke="#262626" stroke-width="0.85"/>
<circle cx="202.50" cy="366.70" r="2.8" fill="#f01414" stroke="#262626" stroke-width="0.85"/>
<path d="M204.00 375.68L207.35 381.53L200.65 381.53Z" fill="none" stroke="#ff1a1a" stroke-width="1.3" stroke-linejoin="round"/>
<path d="M202.10 386.38L205.45 392.23L198.75 392.23Z" fill="none" stroke="#000000" stroke-width="1.3" stroke-linejoin="round"/>
<path d="M201.70 394.68L205.05 400.53L198.35 400.53Z" fill="none" stroke="#000000" stroke-width="1.3" stroke-linejoin="round"/>
<circle cx="202.50" cy="407.20" r="2.8" fill="#2038f2" stroke="#262626" stroke-width="0.85"/>
<circle cx="202.50" cy="411.40" r="2.8" fill="#000000" stroke="#262626" stroke-width="0.85"/>
<circle cx="202.50" cy="422.10" r="2.8" fill="#4ee81a" stroke="#262626" stroke-width="0.85"/>
<circle cx="233.50" cy="354.30" r="2.8" fill="#f01414" stroke="#262626" stroke-width="0.85"/>
<path d="M233.50 400.28L236.85 406.12L230.15 406.12Z" fill="none" stroke="#000000" stroke-width="1.3" stroke-linejoin="round"/>
<path d="M233.50 382.68L236.85 388.53L230.15 388.53Z" fill="none" stroke="#ff6060" stroke-width="1.3" stroke-linejoin="round"/>
<path d="M233.50 380.08L236.85 385.93L230.15 385.93Z" fill="none" stroke="#ff1a1a" stroke-width="1.3" stroke-linejoin="round"/>
<circle cx="233.50" cy="397.80" r="2.8" fill="#2038f2" stroke="#262626" stroke-width="0.85"/>
<circle cx="233.50" cy="403.30" r="2.8" fill="#4ee81a" stroke="#262626" stroke-width="0.85"/>
<circle cx="255.00" cy="397.60" r="2.8" fill="#000000" stroke="#262626" stroke-width="0.85"/>
<circle cx="264.20" cy="343.50" r="2.8" fill="#f01414" stroke="#262626" stroke-width="0.85"/>
<path d="M264.30 374.58L267.65 380.43L260.95 380.43Z" fill="none" stroke="#000000" stroke-width="1.3" stroke-linejoin="round"/>
<circle cx="264.30" cy="381.70" r="2.8" fill="#2038f2" stroke="#262626" stroke-width="0.85"/>
<circle cx="264.30" cy="386.60" r="2.8" fill="#000000" stroke="#262626" stroke-width="0.85"/>
<circle cx="264.30" cy="391.70" r="2.8" fill="#4ee81a" stroke="#262626" stroke-width="0.85"/>
<path d="M269.00 389.58L272.35 395.43L265.65 395.43Z" fill="none" stroke="#000000" stroke-width="1.3" stroke-linejoin="round"/>
<path d="M279.00 360.28L282.35 366.12L275.65 366.12Z" fill="none" stroke="#000000" stroke-width="1.3" stroke-linejoin="round"/>
<path d="M279.50 376.08L282.85 381.93L276.15 381.93Z" fill="none" stroke="#ff1a1a" stroke-width="1.3" stroke-linejoin="round"/>
<path d="M289.30 387.58L292.65 393.43L285.95 393.43Z" fill="none" stroke="#000000" stroke-width="1.3" stroke-linejoin="round"/>
<circle cx="295.30" cy="309.60" r="2.8" fill="#f01414" stroke="#262626" stroke-width="0.85"/>
<circle cx="295.50" cy="365.00" r="2.8" fill="#2038f2" stroke="#262626" stroke-width="0.85"/>
<path d="M295.50 363.58L298.85 369.43L292.15 369.43Z" fill="none" stroke="#ff1a1a" stroke-width="1.3" stroke-linejoin="round"/>
<path d="M295.50 370.08L298.85 375.93L292.15 375.93Z" fill="none" stroke="#000000" stroke-width="1.3" stroke-linejoin="round"/>
<circle cx="295.50" cy="375.70" r="2.8" fill="#4ee81a" stroke="#262626" stroke-width="0.85"/>
<circle cx="295.50" cy="382.30" r="2.8" fill="#000000" stroke="#262626" stroke-width="0.85"/>
<circle cx="326.30" cy="302.90" r="2.8" fill="#f01414" stroke="#262626" stroke-width="0.85"/>
<circle cx="326.30" cy="338.50" r="2.8" fill="#2038f2" stroke="#262626" stroke-width="0.85"/>
<circle cx="325.60" cy="359.20" r="2.8" fill="#2038f2" stroke="#262626" stroke-width="0.85"/>
<circle cx="326.30" cy="359.90" r="2.8" fill="#4ee81a" stroke="#262626" stroke-width="0.85"/>
<path d="M326.30 351.48L329.65 357.32L322.95 357.32Z" fill="none" stroke="#ff1a1a" stroke-width="1.3" stroke-linejoin="round"/>
<path d="M326.30 365.48L329.65 371.32L322.95 371.32Z" fill="none" stroke="#000000" stroke-width="1.3" stroke-linejoin="round"/>
<circle cx="326.30" cy="377.90" r="2.8" fill="#000000" stroke="#262626" stroke-width="0.85"/>
<path d="M321.10 379.78L324.45 385.62L317.75 385.62Z" fill="none" stroke="#000000" stroke-width="1.3" stroke-linejoin="round"/>
<circle cx="341.60" cy="299.60" r="2.8" fill="#f01414" stroke="#262626" stroke-width="0.85"/>
<circle cx="341.60" cy="340.70" r="2.8" fill="#2038f2" stroke="#262626" stroke-width="0.85"/>
<circle cx="341.60" cy="375.50" r="2.8" fill="#000000" stroke="#262626" stroke-width="0.85"/>
<path d="M350.90 375.28L354.25 381.12L347.55 381.12Z" fill="none" stroke="#000000" stroke-width="1.3" stroke-linejoin="round"/>
<circle cx="350.90" cy="296.10" r="2.8" fill="#f01414" stroke="#262626" stroke-width="0.85"/>
<circle cx="354.10" cy="294.60" r="2.8" fill="#f01414" stroke="#262626" stroke-width="0.85"/>
<circle cx="350.90" cy="345.20" r="2.8" fill="#2038f2" stroke="#262626" stroke-width="0.85"/>
<path d="M354.50 337.78L357.85 343.62L351.15 343.62Z" fill="none" stroke="#ff1a1a" stroke-width="1.3" stroke-linejoin="round"/>
<circle cx="353.60" cy="352.30" r="2.8" fill="#4ee81a" stroke="#262626" stroke-width="0.85"/>
<path d="M357.10 355.68L360.45 361.53L353.75 361.53Z" fill="none" stroke="#000000" stroke-width="1.3" stroke-linejoin="round"/>
<circle cx="350.90" cy="365.40" r="2.8" fill="#4ee81a" stroke="#262626" stroke-width="0.85"/>
<circle cx="353.60" cy="363.00" r="2.8" fill="#4ee81a" stroke="#262626" stroke-width="0.85"/>
<path d="M358.00 360.90L361.40 366.70L354.60 366.70Z" fill="#000" stroke="#000" stroke-width="1.2" stroke-linejoin="round"/>
</svg></body></html>
